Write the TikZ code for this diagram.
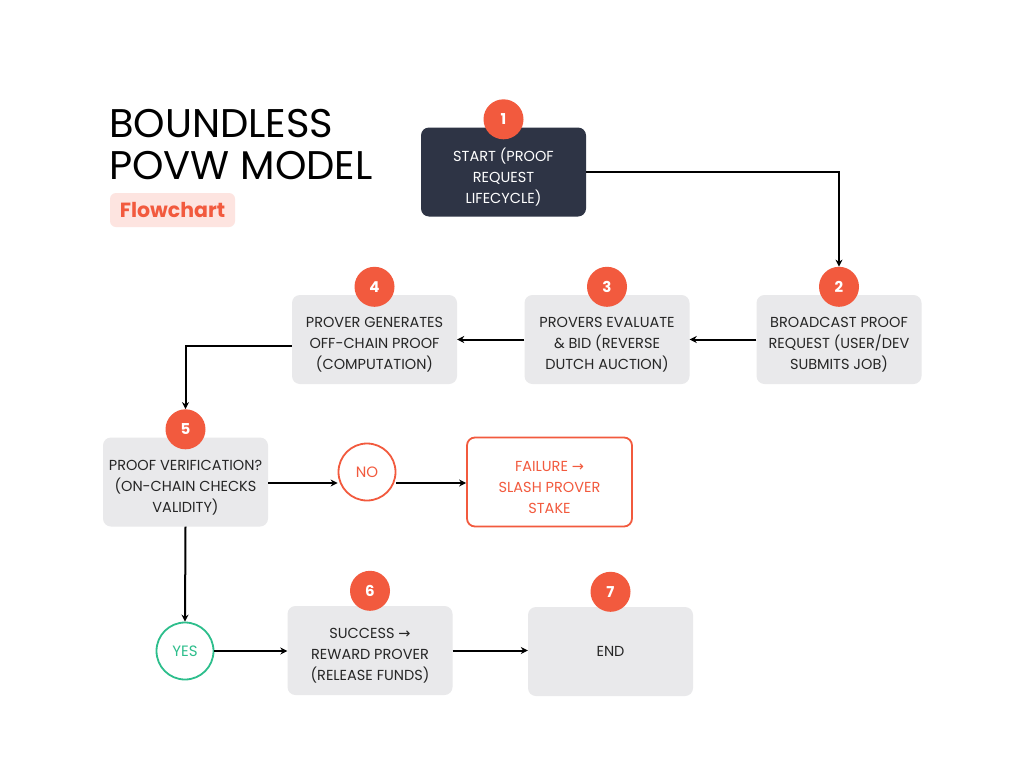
\documentclass[tikz,border=0pt]{standalone}
\usepackage{fontspec}
\setmainfont{Poppins}
\newfontfamily\symfont{DejaVu Sans}
\usetikzlibrary{arrows.meta,calc}
\definecolor{accent}{HTML}{F25A3E}
\definecolor{darkbox}{HTML}{2E3445}
\definecolor{graybox}{HTML}{E9E9EB}
\definecolor{greenc}{HTML}{2DBE8C}
\definecolor{pinkbg}{HTML}{FDE4E0}
\newcommand{\rarr}{{\symfont →}}
\tikzset{
  stepbox/.style={rectangle, rounded corners=8pt, fill=graybox, minimum width=165pt, minimum height=89pt, inner sep=0pt},
  boxtext/.style={inner sep=0pt, align=center, font=\fontsize{14.5}{21}\selectfont, text=black!85, yshift=-5.5pt},
  startbox/.style={stepbox, fill=darkbox},
  failbox/.style={stepbox, fill=white, draw=accent, line width=1.8pt},
  badge/.style={circle, fill=accent, minimum size=40pt, inner sep=0pt, text=white, font=\fontsize{15}{15}\selectfont\bfseries},
  decision/.style={circle, minimum size=57pt, inner sep=0pt, line width=1.8pt, fill=white, font=\fontsize{15}{15}\selectfont},
  conn/.style={line width=2pt, -{Stealth[length=7pt,width=7pt]}},
}
\begin{document}
\begin{tikzpicture}[x=1pt,y=-1pt]
\useasboundingbox (0,0) rectangle (1024,768);
\fill[white] (0,0) rectangle (1024,768);

% title
\node[anchor=north west, inner sep=0pt, align=left, font=\fontsize{40}{42}\selectfont] (title) at (109,109) {BOUNDLESS\\POVW MODEL};
\node[rectangle, rounded corners=6pt, fill=pinkbg, minimum width=125pt, minimum height=34pt, inner sep=0pt, text=accent, font=\fontsize{20.5}{20.5}\selectfont\bfseries] (tag) at (172.5,210) {Flowchart};

% boxes
\node[startbox] (s1) at (503.5,172) {};
\node[boxtext, text=white] (t1) at (s1.center) {START (PROOF\\REQUEST\\LIFECYCLE)};
\node[stepbox] (s2) at (839,339.5) {};
\node[boxtext] (t2) at (s2.center) {BROADCAST PROOF\\REQUEST (USER/DEV\\SUBMITS JOB)};
\node[stepbox] (s3) at (607,339.5) {};
\node[boxtext] (t3) at (s3.center) {PROVERS EVALUATE\\\& BID (REVERSE\\DUTCH AUCTION)};
\node[stepbox] (s4) at (374.5,339.5) {};
\node[boxtext] (t4) at (s4.center) {PROVER GENERATES\\OFF-CHAIN PROOF\\(COMPUTATION)};
\node[stepbox] (s5) at (185.5,482) {};
\node[boxtext] (t5) at (s5.center) {PROOF VERIFICATION?\\(ON-CHAIN CHECKS\\VALIDITY)};
\node[failbox] (fail) at (549.5,482) {};
\node[boxtext, text=accent] (tf) at (fail.center) {FAILURE \rarr\\SLASH PROVER\\STAKE};
\node[stepbox] (s6) at (370,650.5) {};
\node[boxtext] (t6) at (s6.center) {SUCCESS \rarr\\REWARD PROVER\\(RELEASE FUNDS)};
\node[stepbox] (s7) at (610.5,651.5) {};
\node[boxtext, yshift=6pt] (t7) at (s7.center) {END};

% badges
\node[badge] (b1) at ($(s1.north)+(0,-8)$) {1};
\node[badge] (b2) at ($(s2.north)+(0,-8)$) {2};
\node[badge] (b3) at ($(s3.north)+(0,-8)$) {3};
\node[badge] (b4) at ($(s4.north)+(0,-8)$) {4};
\node[badge] (b5) at ($(s5.north)+(0,-8)$) {5};
\node[badge] (b6) at ($(s6.north)+(0,-15)$) {6};
\node[badge] (b7) at ($(s7.north)+(0,-15)$) {7};

% decisions
\node[decision, draw=accent, text=accent] (no) at (367,472) {NO};
\node[decision, draw=greenc, text=greenc] (yes) at (185,651) {YES};

% connectors
\draw[conn] (s1.east) -| (b2.north);
\draw[conn] (s2.west) -- (s3.east);
\draw[conn] (s3.west) -- (s4.east);
\draw[conn] ($(s4.west)+(0,6)$) -| (b5.north);
\draw[conn] ($(s5.east)+(0,1)$) -- ($(no.west)+(0,11)$);
\draw[conn] ($(no.east)+(0,11)$) -- ($(fail.west)+(0,1)$);
\draw[conn] (s5.south) -- (yes.north);
\draw[conn] (yes.east) -- (yes.east -| s6.west);
\draw[conn] (s6.east) -- (s6.east -| s7.west);
\end{tikzpicture}
\end{document}
